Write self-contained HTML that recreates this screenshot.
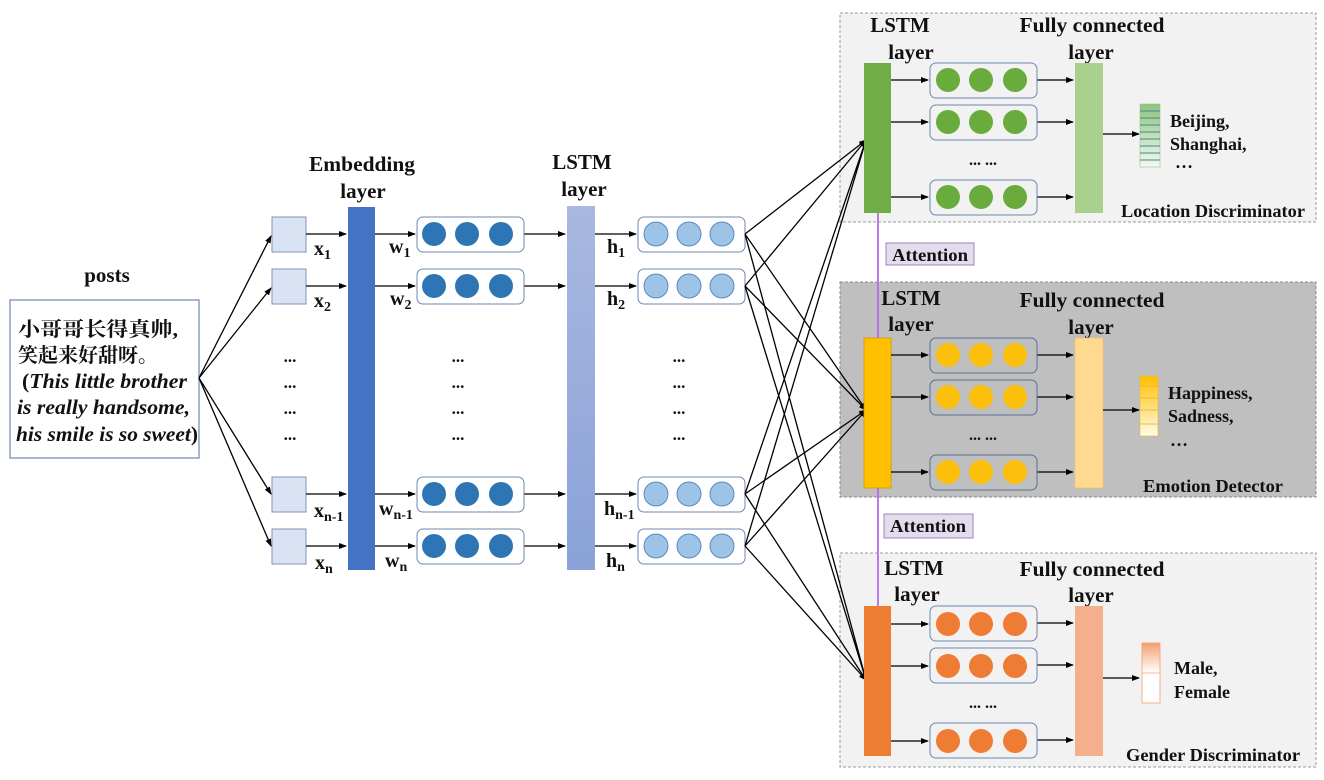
<!DOCTYPE html>
<html><head><meta charset="utf-8"><style>
html,body{margin:0;padding:0;background:#fff;}
svg{display:block;}
text{font-family:"Liberation Serif","Noto Serif CJK SC",serif;font-weight:bold;fill:#111;}
</style></head><body>
<svg width="1324" height="780" viewBox="0 0 1324 780" xmlns="http://www.w3.org/2000/svg">
<defs>
<marker id="a" markerWidth="8" markerHeight="6" refX="7" refY="3" orient="auto" markerUnits="userSpaceOnUse"><path d="M0,0 L8,3 L0,6 z" fill="#000"/></marker>
<linearGradient id="lstm" x1="0" y1="0" x2="0" y2="1"><stop offset="0" stop-color="#a8b8e0"/><stop offset="1" stop-color="#8aa2d8"/></linearGradient>
<linearGradient id="gout" x1="0" y1="0" x2="0" y2="1"><stop offset="0" stop-color="#8fc27a"/><stop offset="1" stop-color="#f4faf2"/></linearGradient>
<linearGradient id="yout" x1="0" y1="0" x2="0" y2="1"><stop offset="0" stop-color="#ffc000"/><stop offset="1" stop-color="#fffbea"/></linearGradient>
<linearGradient id="oout" x1="0" y1="0" x2="0" y2="1"><stop offset="0" stop-color="#f4a070"/><stop offset="0.5" stop-color="#fff"/><stop offset="1" stop-color="#fff"/></linearGradient>
</defs>

<rect x="840" y="13" width="476" height="209" fill="#f2f2f2" stroke="#999" stroke-dasharray="3,2"/>
<rect x="840" y="282" width="476" height="215" fill="#bfbfbf" stroke="#888" stroke-dasharray="3,2"/>
<rect x="840" y="553" width="476" height="214" fill="#f2f2f2" stroke="#999" stroke-dasharray="3,2"/>

<text x="107" y="282" font-size="21" text-anchor="middle">posts</text>
<rect x="10" y="300" width="189" height="158" fill="#fff" stroke="#6f87b0" stroke-width="1.2"/>
<text x="18" y="336" font-size="20" font-weight="normal" textLength="160" lengthAdjust="spacingAndGlyphs">小哥哥长得真帅,</text>
<text x="18" y="362" font-size="20" font-weight="normal" textLength="140" lengthAdjust="spacingAndGlyphs">笑起来好甜呀。</text>
<text x="22" y="388" font-size="21" textLength="165" lengthAdjust="spacingAndGlyphs">(<tspan font-style="italic">This little brother</tspan></text>
<text x="17" y="414" font-size="21" font-style="italic" textLength="173" lengthAdjust="spacingAndGlyphs">is really handsome,</text>
<text x="16" y="441" font-size="21" textLength="182" lengthAdjust="spacingAndGlyphs"><tspan font-style="italic">his smile is so sweet</tspan>)</text>

<g stroke="#000" stroke-width="1.3" marker-end="url(#a)">
<line x1="199" y1="378" x2="271" y2="236"/>
<line x1="199" y1="378" x2="271" y2="288"/>
<line x1="199" y1="378" x2="271" y2="494"/>
<line x1="199" y1="378" x2="271" y2="546"/>
</g>

<g fill="#dae3f3" stroke="#7f93b8">
<rect x="272" y="217" width="34" height="35"/>
<rect x="272" y="269" width="34" height="35"/>
<rect x="272" y="477" width="34" height="35"/>
<rect x="272" y="529" width="34" height="35"/>
</g>
<g font-size="17" text-anchor="middle">
<text x="290" y="362">...</text><text x="290" y="388">...</text><text x="290" y="414">...</text><text x="290" y="440">...</text>
<text x="458" y="362">...</text><text x="458" y="388">...</text><text x="458" y="414">...</text><text x="458" y="440">...</text>
<text x="679" y="362">...</text><text x="679" y="388">...</text><text x="679" y="414">...</text><text x="679" y="440">...</text>
</g>

<g font-size="20">
<text x="314" y="255">x<tspan font-size="14" dy="4">1</tspan></text>
<text x="314" y="307">x<tspan font-size="14" dy="4">2</tspan></text>
<text x="314" y="517">x<tspan font-size="14" dy="4">n-1</tspan></text>
<text x="315" y="569">x<tspan font-size="14" dy="4">n</tspan></text>
<text x="389" y="253">w<tspan font-size="14" dy="4">1</tspan></text>
<text x="390" y="305">w<tspan font-size="14" dy="4">2</tspan></text>
<text x="379" y="515">w<tspan font-size="14" dy="4">n-1</tspan></text>
<text x="385" y="567">w<tspan font-size="14" dy="4">n</tspan></text>
<text x="607" y="253">h<tspan font-size="14" dy="4">1</tspan></text>
<text x="607" y="305">h<tspan font-size="14" dy="4">2</tspan></text>
<text x="604" y="515">h<tspan font-size="14" dy="4">n-1</tspan></text>
<text x="606" y="567">h<tspan font-size="14" dy="4">n</tspan></text>
</g>

<text x="362" y="171" font-size="21" text-anchor="middle" textLength="106" lengthAdjust="spacingAndGlyphs">Embedding</text>
<text x="363" y="198" font-size="21" text-anchor="middle">layer</text>
<rect x="348" y="207" width="27" height="363" fill="#4472c4"/>
<text x="582" y="169" font-size="21" text-anchor="middle">LSTM</text>
<text x="584" y="196" font-size="21" text-anchor="middle">layer</text>
<rect x="567" y="206" width="28" height="364" fill="url(#lstm)"/>

<g stroke="#000" stroke-width="1.3" marker-end="url(#a)">
<line x1="306" y1="234" x2="346" y2="234"/><line x1="306" y1="286" x2="346" y2="286"/>
<line x1="306" y1="494" x2="346" y2="494"/><line x1="306" y1="546" x2="346" y2="546"/>
<line x1="375" y1="234" x2="415" y2="234"/><line x1="375" y1="286" x2="415" y2="286"/>
<line x1="375" y1="494" x2="415" y2="494"/><line x1="375" y1="546" x2="415" y2="546"/>
<line x1="524" y1="234" x2="565" y2="234"/><line x1="524" y1="286" x2="565" y2="286"/>
<line x1="524" y1="494" x2="565" y2="494"/><line x1="524" y1="546" x2="565" y2="546"/>
<line x1="595" y1="234" x2="636" y2="234"/><line x1="595" y1="286" x2="636" y2="286"/>
<line x1="595" y1="494" x2="636" y2="494"/><line x1="595" y1="546" x2="636" y2="546"/>
</g>

<g fill="#fff" stroke="#6f87b0">
<rect x="417" y="217" width="107" height="35" rx="6"/><rect x="417" y="269" width="107" height="35" rx="6"/>
<rect x="417" y="477" width="107" height="35" rx="6"/><rect x="417" y="529" width="107" height="35" rx="6"/>
<rect x="638" y="217" width="107" height="35" rx="6"/><rect x="638" y="269" width="107" height="35" rx="6"/>
<rect x="638" y="477" width="107" height="35" rx="6"/><rect x="638" y="529" width="107" height="35" rx="6"/>
</g>
<g fill="#2e75b6">
<circle cx="434" cy="234" r="12"/><circle cx="467" cy="234" r="12"/><circle cx="501" cy="234" r="12"/>
<circle cx="434" cy="286" r="12"/><circle cx="467" cy="286" r="12"/><circle cx="501" cy="286" r="12"/>
<circle cx="434" cy="494" r="12"/><circle cx="467" cy="494" r="12"/><circle cx="501" cy="494" r="12"/>
<circle cx="434" cy="546" r="12"/><circle cx="467" cy="546" r="12"/><circle cx="501" cy="546" r="12"/>
</g>
<g fill="#9dc3e6" stroke="#5b89c0">
<circle cx="656" cy="234" r="12"/><circle cx="689" cy="234" r="12"/><circle cx="722" cy="234" r="12"/>
<circle cx="656" cy="286" r="12"/><circle cx="689" cy="286" r="12"/><circle cx="722" cy="286" r="12"/>
<circle cx="656" cy="494" r="12"/><circle cx="689" cy="494" r="12"/><circle cx="722" cy="494" r="12"/>
<circle cx="656" cy="546" r="12"/><circle cx="689" cy="546" r="12"/><circle cx="722" cy="546" r="12"/>
</g>

<g stroke="#000" stroke-width="1.3" marker-end="url(#a)">
<line x1="745" y1="234" x2="866" y2="140"/><line x1="745" y1="234" x2="866" y2="410"/><line x1="745" y1="234" x2="866" y2="680"/>
<line x1="745" y1="286" x2="866" y2="140"/><line x1="745" y1="286" x2="866" y2="410"/><line x1="745" y1="286" x2="866" y2="680"/>
<line x1="745" y1="494" x2="866" y2="140"/><line x1="745" y1="494" x2="866" y2="410"/><line x1="745" y1="494" x2="866" y2="680"/>
<line x1="745" y1="546" x2="866" y2="140"/><line x1="745" y1="546" x2="866" y2="410"/><line x1="745" y1="546" x2="866" y2="680"/>
</g>

<line x1="878" y1="213" x2="878" y2="606" stroke="#b36ae2" stroke-width="1.5"/>
<rect x="886" y="243" width="88" height="22" fill="#e3dcec" stroke="#9b85bd"/>
<text x="930" y="261" font-size="18" text-anchor="middle" textLength="76" lengthAdjust="spacingAndGlyphs">Attention</text>
<rect x="884" y="514" width="89" height="24" fill="#e3dcec" stroke="#9b85bd"/>
<text x="928" y="532" font-size="18" text-anchor="middle" textLength="76" lengthAdjust="spacingAndGlyphs">Attention</text>

<g font-size="21" text-anchor="middle">
<text x="900" y="32">LSTM</text><text x="911" y="59">layer</text>
<text x="1092" y="32" textLength="145" lengthAdjust="spacingAndGlyphs">Fully connected</text><text x="1091" y="59">layer</text>
<text x="911" y="305">LSTM</text><text x="911" y="331">layer</text>
<text x="1092" y="307" textLength="145" lengthAdjust="spacingAndGlyphs">Fully connected</text><text x="1091" y="334">layer</text>
<text x="914" y="575">LSTM</text><text x="917" y="601">layer</text>
<text x="1092" y="576" textLength="145" lengthAdjust="spacingAndGlyphs">Fully connected</text><text x="1091" y="602">layer</text>
</g>
<g font-size="18">
<text x="1121" y="217" textLength="184" lengthAdjust="spacingAndGlyphs">Location Discriminator</text>
<text x="1143" y="492" textLength="140" lengthAdjust="spacingAndGlyphs">Emotion Detector</text>
<text x="1126" y="761" textLength="174" lengthAdjust="spacingAndGlyphs">Gender Discriminator</text>
<text x="1170" y="127">Beijing,</text><text x="1170" y="150">Shanghai,</text><text x="1175" y="168">…</text>
<text x="1168" y="399">Happiness,</text><text x="1168" y="422">Sadness,</text><text x="1170" y="446">…</text>
<text x="1174" y="674">Male,</text><text x="1174" y="698">Female</text>
</g>

<rect x="864" y="63" width="27" height="150" fill="#70ad47"/>
<rect x="864" y="338" width="27" height="150" fill="#ffc000" stroke="#d49a00" stroke-width="0.8"/>
<rect x="864" y="606" width="27" height="150" fill="#ed7d31"/>
<line x1="878" y1="213" x2="878" y2="338" stroke="#b36ae2" stroke-width="1.5"/>
<line x1="878" y1="488" x2="878" y2="606" stroke="#b36ae2" stroke-width="1.5"/>
<rect x="1075" y="63" width="28" height="150" fill="#a9d18e"/>
<rect x="1075" y="338" width="28" height="150" fill="#ffd98f" stroke="#f0c070" stroke-width="0.8"/>
<rect x="1075" y="606" width="28" height="150" fill="#f4b08c"/>

<g stroke="#000" stroke-width="1.3" marker-end="url(#a)">
<line x1="891" y1="80" x2="928" y2="80"/><line x1="891" y1="122" x2="928" y2="122"/><line x1="891" y1="197" x2="928" y2="197"/>
<line x1="1037" y1="80" x2="1073" y2="80"/><line x1="1037" y1="122" x2="1073" y2="122"/><line x1="1037" y1="197" x2="1073" y2="197"/>
<line x1="891" y1="355" x2="928" y2="355"/><line x1="891" y1="397" x2="928" y2="397"/><line x1="891" y1="472" x2="928" y2="472"/>
<line x1="1037" y1="355" x2="1073" y2="355"/><line x1="1037" y1="397" x2="1073" y2="397"/><line x1="1037" y1="472" x2="1073" y2="472"/>
<line x1="891" y1="624" x2="928" y2="624"/><line x1="891" y1="666" x2="928" y2="666"/><line x1="891" y1="741" x2="928" y2="741"/>
<line x1="1037" y1="623" x2="1073" y2="623"/><line x1="1037" y1="665" x2="1073" y2="665"/><line x1="1037" y1="740" x2="1073" y2="740"/>
<line x1="1103" y1="134" x2="1139" y2="134"/><line x1="1103" y1="410" x2="1139" y2="410"/><line x1="1103" y1="678" x2="1139" y2="678"/>
</g>

<g fill="#f2f2f2" stroke="#6f87b0">
<rect x="930" y="63" width="107" height="35" rx="6"/><rect x="930" y="105" width="107" height="35" rx="6"/><rect x="930" y="180" width="107" height="35" rx="6"/>
<rect x="930" y="606" width="107" height="35" rx="6"/><rect x="930" y="648" width="107" height="35" rx="6"/><rect x="930" y="723" width="107" height="35" rx="6"/>
</g>
<g fill="#bfbfbf" stroke="#5a6f95">
<rect x="930" y="338" width="107" height="35" rx="6"/><rect x="930" y="380" width="107" height="35" rx="6"/><rect x="930" y="455" width="107" height="35" rx="6"/>
</g>
<g fill="#6aab3e">
<circle cx="948" cy="80" r="12"/><circle cx="981" cy="80" r="12"/><circle cx="1015" cy="80" r="12"/>
<circle cx="948" cy="122" r="12"/><circle cx="981" cy="122" r="12"/><circle cx="1015" cy="122" r="12"/>
<circle cx="948" cy="197" r="12"/><circle cx="981" cy="197" r="12"/><circle cx="1015" cy="197" r="12"/>
</g>
<g fill="#fbbf0c">
<circle cx="948" cy="355" r="12"/><circle cx="981" cy="355" r="12"/><circle cx="1015" cy="355" r="12"/>
<circle cx="948" cy="397" r="12"/><circle cx="981" cy="397" r="12"/><circle cx="1015" cy="397" r="12"/>
<circle cx="948" cy="472" r="12"/><circle cx="981" cy="472" r="12"/><circle cx="1015" cy="472" r="12"/>
</g>
<g fill="#ee7c35">
<circle cx="948" cy="624" r="12"/><circle cx="981" cy="624" r="12"/><circle cx="1015" cy="624" r="12"/>
<circle cx="948" cy="666" r="12"/><circle cx="981" cy="666" r="12"/><circle cx="1015" cy="666" r="12"/>
<circle cx="948" cy="741" r="12"/><circle cx="981" cy="741" r="12"/><circle cx="1015" cy="741" r="12"/>
</g>
<g font-size="16" text-anchor="middle">
<text x="983" y="165">... ...</text><text x="983" y="440">... ...</text><text x="983" y="708">... ...</text>
</g>

<rect x="1140" y="104" width="20" height="63" fill="url(#gout)" stroke="#9cc08a" stroke-width="0.6"/>
<g stroke="#3a8a9a" stroke-width="1">
<line x1="1140" y1="111" x2="1160" y2="111"/><line x1="1140" y1="118" x2="1160" y2="118"/><line x1="1140" y1="125" x2="1160" y2="125"/>
<line x1="1140" y1="132" x2="1160" y2="132"/><line x1="1140" y1="139" x2="1160" y2="139"/><line x1="1140" y1="146" x2="1160" y2="146"/>
<line x1="1140" y1="153" x2="1160" y2="153"/><line x1="1140" y1="160" x2="1160" y2="160"/>
</g>
<rect x="1140" y="376" width="18" height="60" fill="url(#yout)" stroke="#e8b830" stroke-width="0.6"/>
<g stroke="#e6b030" stroke-width="0.8">
<line x1="1140" y1="386" x2="1158" y2="386"/><line x1="1140" y1="398" x2="1158" y2="398"/><line x1="1140" y1="410" x2="1158" y2="410"/><line x1="1140" y1="424" x2="1158" y2="424"/>
</g>
<rect x="1142" y="643" width="18" height="60" fill="url(#oout)" stroke="#f0a070" stroke-width="0.8"/>
<line x1="1142" y1="673" x2="1160" y2="673" stroke="#f0a070" stroke-width="0.8"/>
</svg>
</body></html>
